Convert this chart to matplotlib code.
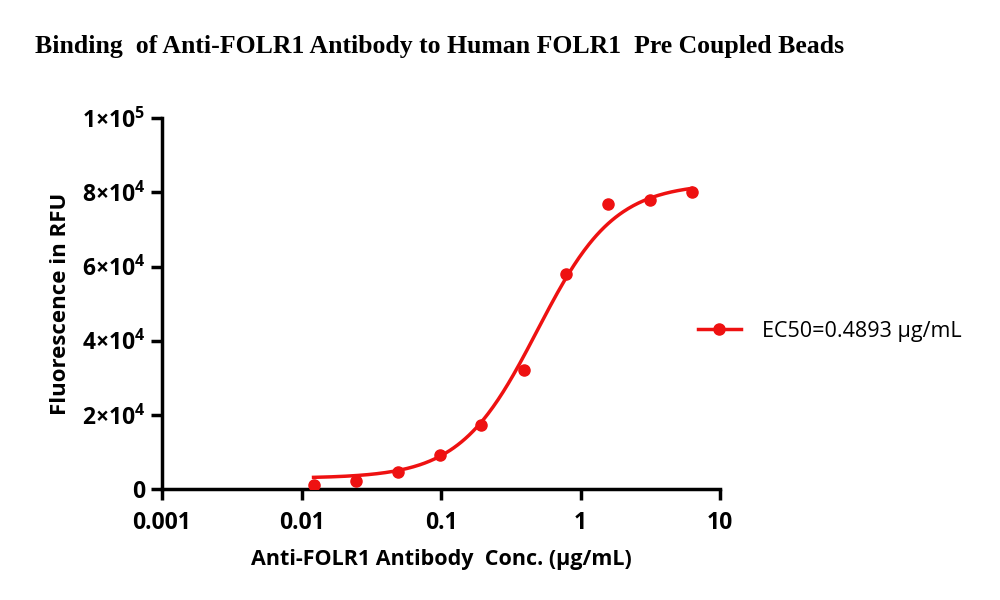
import numpy as np
import matplotlib.pyplot as plt
from matplotlib.ticker import FixedLocator, FixedFormatter

plt.rcParams['font.family'] = ['Open Sans', 'DejaVu Sans']
plt.rcParams['mathtext.fontset'] = 'custom'
plt.rcParams['mathtext.rm'] = 'Open Sans'
plt.rcParams['mathtext.bf'] = 'Open Sans:bold'

# data
conc = [0.0122, 0.0244, 0.0488, 0.0977, 0.195, 0.391, 0.781, 1.5625, 3.125, 6.25]
rfu = [1200, 2250, 4500, 9100, 17300, 32000, 58100, 76800, 77900, 80200]

# 4PL fit parameters
bottom = 2900
top = 82500
ec50 = 0.4893
hill = 1.57

xt = [0.001, 0.01, 0.1, 1, 10]
xt_labels = ['0.001', '0.01', '0.1', '1', '10']
yt = [0, 20000, 40000, 60000, 80000, 100000]
yt_labels = ['0', r'$\mathbf{2{\times}10^4}$', r'$\mathbf{4{\times}10^4}$',
             r'$\mathbf{6{\times}10^4}$', r'$\mathbf{8{\times}10^4}$', r'$\mathbf{1{\times}10^5}$']

red = '#ee1111'

fig = plt.figure(figsize=(10, 6), dpi=100)
ax = fig.add_axes([0.162, 0.185, 0.558, 0.618])

xs = np.logspace(np.log10(conc[0]), np.log10(conc[-1]), 300)
ys = bottom + (top - bottom) / (1 + (ec50 / xs) ** hill)
ax.plot(xs, ys, color=red, lw=2.5, zorder=3)
ax.plot(conc, rfu, 'o', color=red, ms=8, zorder=4)
ax.plot([], [], '-o', color=red, lw=2.5, ms=8, label='EC50=0.4893 µg/mL')

ax.set_xscale('log')
ax.set_xlim(0.001, 10)
ax.set_ylim(0, 100000)
ax.xaxis.set_major_locator(FixedLocator(xt))
ax.xaxis.set_major_formatter(FixedFormatter(xt_labels))
ax.xaxis.set_minor_locator(FixedLocator([]))
ax.yaxis.set_major_locator(FixedLocator(yt))
ax.yaxis.set_major_formatter(FixedFormatter(yt_labels))

for s in ['top', 'right']:
    ax.spines[s].set_visible(False)
for s in ['left', 'bottom']:
    ax.spines[s].set_linewidth(2.5)
ax.tick_params(width=2.5, length=8, labelsize=16.5, pad=4)
ax.tick_params(axis='x', pad=8)
for lab in ax.get_xticklabels() + ax.get_yticklabels():
    lab.set_fontweight('bold')

ax.set_xlabel('Anti-FOLR1 Antibody  Conc. (µg/mL)', fontsize=15.5, fontweight='bold', labelpad=10)
ax.set_ylabel('Fluorescence in RFU', fontsize=16, fontweight='bold', labelpad=8)

ax.legend(loc='center left', bbox_to_anchor=(0.96, 0.426), frameon=False, fontsize=15.5,
          handlelength=2.0, handletextpad=1.0, borderaxespad=0, borderpad=0)

fig.text(0.035, 0.922, 'Binding  of Anti-FOLR1 Antibody to Human FOLR1  Pre Coupled Beads',
         family='Liberation Serif', fontweight='bold', fontsize=18.5, va='center')

fig.savefig('out.png', dpi=100)
